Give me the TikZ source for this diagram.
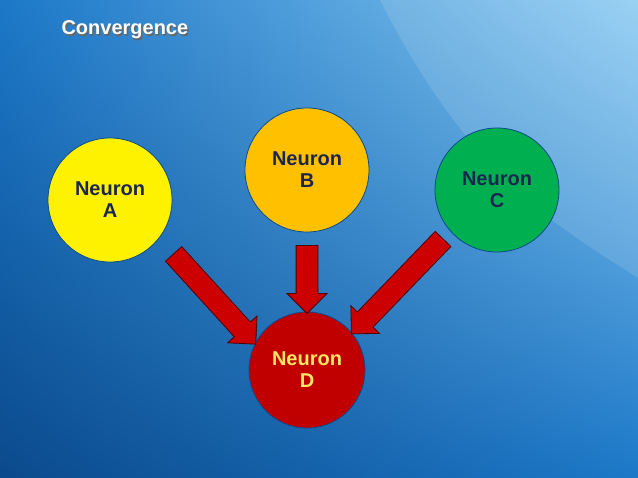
\documentclass[tikz,border=0pt]{standalone}
\usepackage{fontspec}
\setmainfont{Liberation Sans}
\usetikzlibrary{shapes.arrows,shadings}
\definecolor{navy}{HTML}{1A2550}
\definecolor{bgdark}{HTML}{0B4A8C}
\definecolor{bgmid}{HTML}{1C78C8}
\definecolor{bglight}{HTML}{8CCBF2}
\tikzset{
 neuron/.style={circle,draw=bgdark,line width=0.8pt,minimum size=124pt,inner sep=0pt,align=center,font=\fontsize{20}{22}\selectfont\bfseries,text=navy},
 blk/.style={single arrow,draw=black!70!red,line width=0.8pt,fill=red!80!black,inner xsep=0pt,inner ysep=10.5pt,single arrow head extend=9pt,single arrow head indent=0pt,single arrow tip angle=90,anchor=center}
}
\begin{document}
\begin{tikzpicture}[x=1pt,y=1pt]
\useasboundingbox (0,0) rectangle (638,478);
\shade[lower left=bgdark,lower right=bgmid,upper left=bgmid,upper right=bglight] (0,0) rectangle (638,478);
\fill[white,opacity=0.12] (380,478) .. controls (470,300) and (560,250) .. (638,200) -- (638,478) -- cycle;
\node[anchor=west,font=\fontsize{20}{22}\selectfont\bfseries,text=black!60] (ts) at (59.5,446.5) {Convergence};
\node[anchor=west,font=\fontsize{20}{22}\selectfont\bfseries,text=white] (title) at (58,448) {Convergence};
\node[neuron,fill=yellow] (A) at (110,278) {Neuron\\A};
\node[neuron,fill={rgb,255:red,255;green,192;blue,0}] (B) at (307,308) {Neuron\\B};
\node[neuron,fill={rgb,255:red,0;green,176;blue,80}] (C) at (497,288) {Neuron\\C};
\node[neuron,fill={rgb,255:red,192;green,0;blue,0},minimum size=116pt,text={rgb,255:red,255;green,230;blue,100}] (D) at (307,108) {Neuron\\D};
\node[blk,minimum height=122pt,rotate=-47.7] (ab) at (211,183) {};
\node[blk,minimum height=68pt,rotate=-90] (bb) at (307,204) {};
\node[blk,minimum height=132pt,rotate=-134] (cb) at (401,195.5) {};
\end{tikzpicture}
\end{document}
